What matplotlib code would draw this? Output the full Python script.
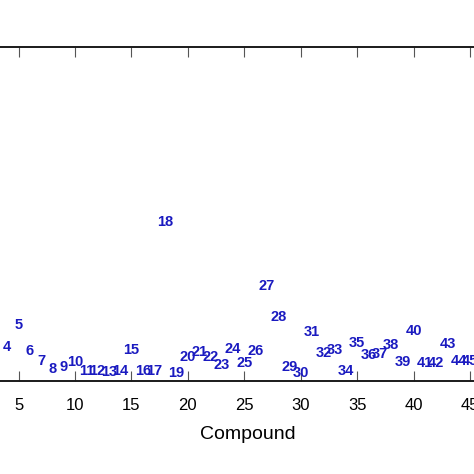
import numpy as np
import matplotlib
matplotlib.use("Agg")
import matplotlib.pyplot as plt

# compound number and the plotted value (label centre)
compounds = list(range(4, 47))
values = [10.3, 16.8, 9.0, 6.1, 3.6, 4.3, 5.8, 3.0, 3.0, 2.7,
          3.0, 9.3, 3.0, 3.0, 47.5, 2.5, 7.3, 8.6, 7.1, 4.8,
          9.5, 5.3, 9.1, 28.4, 19.3, 4.3, 2.3, 14.6, 8.5, 9.3,
          3.0, 11.5, 7.8, 8.1, 10.8, 5.8, 15.1, 5.3, 5.3, 11.1,
          6.1, 6.1, 15.3]
xticks = [5, 10, 15, 20, 25, 30, 35, 40, 45]

plt.rcParams['font.family'] = ['Liberation Sans', 'DejaVu Sans']

fig = plt.figure(figsize=(4.74, 4.74), dpi=100)
# axes box is wider than the picture: the left and right edges are cut off
ax = fig.add_axes([-0.080, 0.1962, 1.2053, 0.7046])
ax.set_xlim(0, 50.6)
ax.set_ylim(0, 100)

for c, v in zip(compounds, values):
    ax.text(c, v, str(c), ha='center', va='center', fontsize=10.5,
            fontweight='bold', color='#1a1ac0')

ax.set_xticks(xticks)
ax.set_yticks([])
ax.tick_params(axis='x', direction='in', length=7, width=0.8, color='#555555',
               top=True, labelsize=12, pad=12.5)
for s in ax.spines.values():
    s.set_linewidth(1.4)
    s.set_color('#1a1a1a')
ax.set_xlabel("Compound", fontsize=14, labelpad=9)

fig.savefig("out.png", dpi=100)
